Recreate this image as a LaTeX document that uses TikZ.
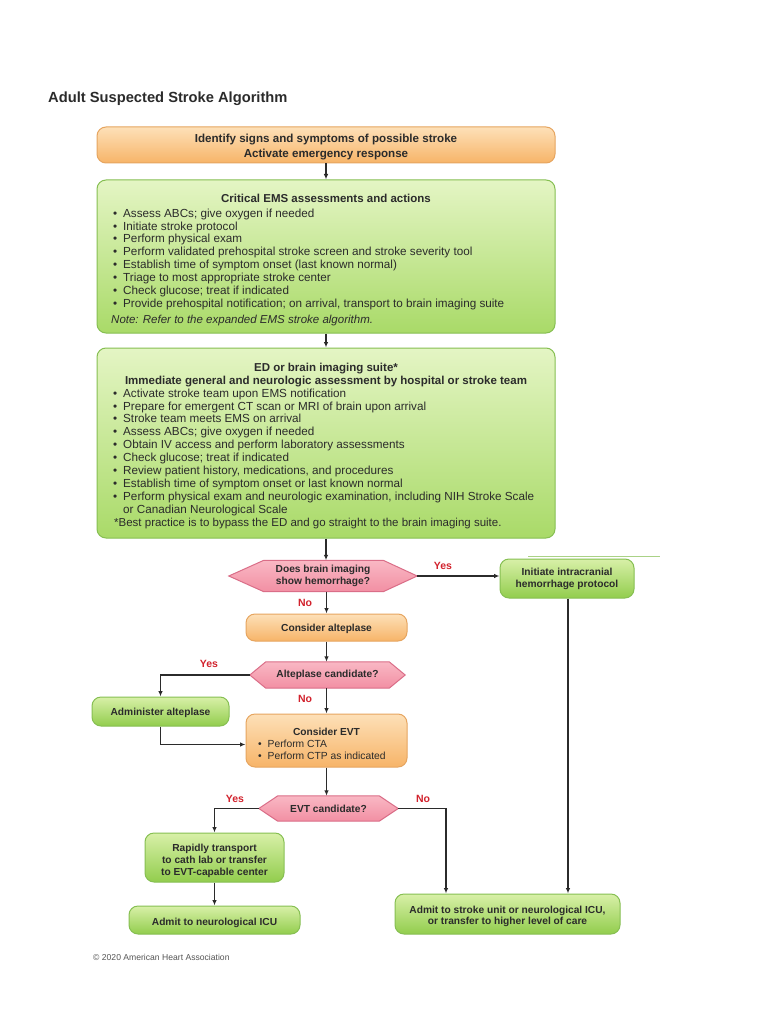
\documentclass[tikz,border=0pt]{standalone}
\usepackage{fontspec}
\setmainfont{Liberation Sans}
\usetikzlibrary{arrows.meta,backgrounds,calc}
\definecolor{txt}{HTML}{2B2B2B}
\definecolor{otop}{HTML}{FDE0B8}
\definecolor{obot}{HTML}{F7B468}
\definecolor{oline}{HTML}{E6A560}
\definecolor{gtop}{HTML}{E4F5C4}
\definecolor{gbot}{HTML}{A9DA68}
\definecolor{gline}{HTML}{86BF52}
\definecolor{g2top}{HTML}{D8F0A8}
\definecolor{g2bot}{HTML}{92CD4D}
\definecolor{ptop}{HTML}{F9B8C4}
\definecolor{pbot}{HTML}{F28FA3}
\definecolor{pline}{HTML}{DA6E88}
\definecolor{lblred}{HTML}{D2222D}
\definecolor{copy}{HTML}{555555}
\newcommand{\itm}{\makebox[10pt][l]{\textbullet}}
\begin{document}
\begin{tikzpicture}[x=1pt,y=-1pt,
  box/.style={draw, rounded corners=9pt, line width=1pt, inner sep=0pt, text=txt, align=center},
  obox/.style={box, draw=oline, top color=otop, bottom color=obot},
  gbox/.style={box, draw=gline, top color=gtop, bottom color=gbot},
  gsbox/.style={box, draw=gline, top color=g2top, bottom color=g2bot},
  btxt/.style={font=\bfseries\fontsize{10.2}{12}\selectfont},
  ctxt/.style={inner sep=0pt, text=txt, align=center, font=\bfseries\fontsize{10.2}{12}\selectfont},
  hd/.style={inner sep=0pt, text=txt, align=center, font=\bfseries\fontsize{11.5}{12.5}\selectfont},
  lst/.style={inner sep=0pt, text=txt, align=left, anchor=north west, font=\fontsize{11.7}{12.85}\selectfont},
  dtext/.style={inner sep=0pt, text=txt, align=center, font=\bfseries\fontsize{10.2}{12}\selectfont},
  hexa/.style={draw=pline, line width=1pt, top color=ptop, bottom color=pbot},
  arr/.style={draw=txt, line width=1.2pt, -{Latex[length=5.5pt,width=4.5pt]}},
  lbl/.style={inner sep=0pt, text=lblred, font=\bfseries\fontsize{10.5}{11}\selectfont}
]
\useasboundingbox (0,0) rectangle (768,1024);
\begin{scope}[on background layer]
\fill[white] (0,0) rectangle (768,1024);
\end{scope}

% title
\node[anchor=west, inner sep=0pt, text=txt, font=\bfseries\fontsize{14.7}{17}\selectfont] (title) at (48,98.5) {Adult Suspected Stroke Algorithm};

% box 1
\node[obox, minimum width=458, minimum height=36] (b1) at (326,145) {};
\node[hd, font=\bfseries\fontsize{11.6}{15.5}\selectfont] (b1T) at (326,147) {Identify signs and symptoms of possible stroke\\Activate emergency response};

% EMS box
\node[gbox, minimum width=458, minimum height=153] (ems) at (326,256.5) {};
\node[hd] (emsT) at (326,198) {Critical EMS assessments and actions};
\node[lst] (emsL) at (113,208.5) {\itm Assess ABCs; give oxygen if needed\\
\itm Initiate stroke protocol\\
\itm Perform physical exam\\
\itm Perform validated prehospital stroke screen and stroke severity tool\\
\itm Establish time of symptom onset (last known normal)\\
\itm Triage to most appropriate stroke center\\
\itm Check glucose; treat if indicated\\
\itm Provide prehospital notification; on arrival, transport to brain imaging suite};
\node[anchor=west, inner sep=0pt, text=txt, font=\itshape\fontsize{11.5}{12}\selectfont] (emsN) at (111,321) {Note: Refer to the expanded EMS stroke algorithm.};

% ED box
\node[gbox, minimum width=458, minimum height=190] (ed) at (326,443) {};
\node[hd] (edT) at (326,375) {ED or brain imaging suite*\\Immediate general and neurologic assessment by hospital or stroke team};
\node[lst, font=\fontsize{11.7}{12.9}\selectfont] (edL) at (113,388.5) {\itm Activate stroke team upon EMS notification\\
\itm Prepare for emergent CT scan or MRI of brain upon arrival\\
\itm Stroke team meets EMS on arrival\\
\itm Assess ABCs; give oxygen if needed\\
\itm Obtain IV access and perform laboratory assessments\\
\itm Check glucose; treat if indicated\\
\itm Review patient history, medications, and procedures\\
\itm Establish time of symptom onset or last known normal\\
\itm Perform physical exam and neurologic examination, including NIH Stroke Scale\\
\hspace*{10pt}or Canadian Neurological Scale};
\node[anchor=west, inner sep=0pt, text=txt, font=\fontsize{11.5}{12}\selectfont] (edN) at (114,524) {*Best practice is to bypass the ED and go straight to the brain imaging suite.};

% diamond 1
\node[dtext, minimum width=188, minimum height=31] (d1) at (323,576) {Does brain imaging\\show hemorrhage?};
\begin{scope}[on background layer]
\path[hexa] (d1.west) -- ([xshift=35]d1.north west) -- ([xshift=-34]d1.north east) -- (d1.east) -- ([xshift=-34]d1.south east) -- ([xshift=35]d1.south west) -- cycle;
\end{scope}

% ICH box
\node[gsbox, minimum width=134, minimum height=39, btxt] (ich) at (567,578.5) {Initiate intracranial\\hemorrhage protocol};
\draw[gline!70, line width=0.8pt] (528,556) -- (660,556);

% consider alteplase
\node[obox, minimum width=161, minimum height=27] (ca) at (326.5,627.5) {};
\node[ctxt] (caT) at (326.5,629) {Consider alteplase};

% diamond 2
\node[dtext, minimum width=155, minimum height=26] (d2) at (327.5,675) {Alteplase candidate?};
\begin{scope}[on background layer]
\path[hexa] (d2.west) -- ([xshift=16]d2.north west) -- ([xshift=-16]d2.north east) -- (d2.east) -- ([xshift=-16]d2.south east) -- ([xshift=16]d2.south west) -- cycle;
\end{scope}

% administer alteplase
\node[gsbox, minimum width=137, minimum height=29] (adm) at (160.5,711.5) {};
\node[ctxt] (admT) at (160.5,712.5) {Administer alteplase};

% consider EVT
\node[obox, minimum width=161, minimum height=53] (evt) at (326.5,740.5) {};
\node[hd, font=\bfseries\fontsize{10.2}{12}\selectfont] (evtT) at (326.5,731.5) {Consider EVT};
\node[lst, font=\fontsize{10.3}{11.5}\selectfont] (evtL) at (258,740) {\makebox[9.5pt][l]{\textbullet}Perform CTA\\\makebox[9.5pt][l]{\textbullet}Perform CTP as indicated};

% diamond 3
\node[dtext, minimum width=139, minimum height=25] (d3) at (328.5,808.5) {EVT candidate?};
\begin{scope}[on background layer]
\path[hexa] (d3.west) -- ([xshift=19]d3.north west) -- ([xshift=-19]d3.north east) -- (d3.east) -- ([xshift=-19]d3.south east) -- ([xshift=19]d3.south west) -- cycle;
\end{scope}

% rapidly transport
\node[gsbox, minimum width=139, minimum height=49] (rap) at (214.5,857.5) {};
\node[ctxt] (rapT) at (214.5,860.5) {Rapidly transport\\to cath lab or transfer\\to EVT-capable center};

% admit neuro ICU
\node[gsbox, minimum width=171, minimum height=28] (icu) at (214.5,920) {};
\node[ctxt] (icuT) at (214.5,922.5) {Admit to neurological ICU};

% admit stroke unit
\node[gsbox, minimum width=225, minimum height=40] (su) at (507.5,914) {};
\node[ctxt, font=\bfseries\fontsize{10.2}{11}\selectfont] (suT) at (507.5,916.5) {Admit to stroke unit or neurological ICU,\\or transfer to higher level of care};

% connectors
\draw[arr] (b1.south) -- (ems.north);
\draw[arr] (ems.south) -- (ed.north);
\draw[arr] (ed.south) -- (ed.south |- d1.north);
\draw[arr] (d1.east) -- (d1.east -| ich.west);
\node[lbl] (y1) at (443,566) {Yes};
\draw[arr] ([xshift=1]ich.south) -- ([xshift=1]ich.south |- su.north);
\draw[arr] (ca.north |- d1.south) -- (ca.north);
\node[lbl] (n1) at (305,603) {No};
\draw[arr] (ca.south) -- (ca.south |- d2.north);
\draw[arr] (d2.west) -| (adm.north);
\node[lbl] (y2) at (209,664) {Yes};
\draw[arr] (evt.north |- d2.south) -- (evt.north);
\node[lbl] (n2) at (305,699) {No};
\coordinate (evtin) at ($(evt.west)+(0,4)$);
\draw[arr] (adm.south) |- (evtin);
\draw[arr] (evt.south) -- (evt.south |- d3.north);
\draw[arr] (d3.west) -| (rap.north);
\node[lbl] (y3) at (235,799) {Yes};
\coordinate (nodown) at ($(su.north)+(-61.5,0)$);
\draw[arr] (d3.east) -| (nodown);
\node[lbl] (n3) at (423,799) {No};
\draw[arr] (rap.south) -- (icu.north);

% copyright
\node[anchor=west, inner sep=0pt, text=copy, font=\fontsize{8.6}{10}\selectfont] (cr) at (93,957) {© 2020 American Heart Association};
\end{tikzpicture}
\end{document}
